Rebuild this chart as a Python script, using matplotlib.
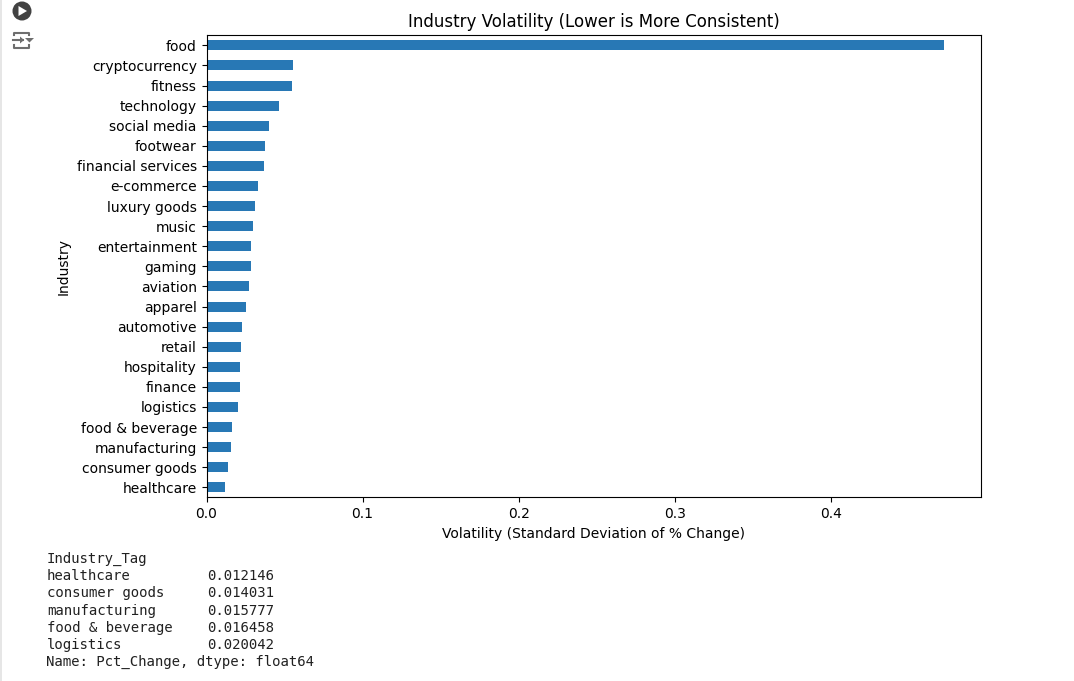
import matplotlib
matplotlib.use('Agg')
import matplotlib.pyplot as plt
from matplotlib.patches import Circle, Polygon, Rectangle
from matplotlib.lines import Line2D

industries = ['healthcare', 'consumer goods', 'manufacturing', 'food & beverage', 'logistics',
              'finance', 'hospitality', 'retail', 'automotive', 'apparel', 'aviation', 'gaming',
              'entertainment', 'music', 'luxury goods', 'e-commerce', 'financial services',
              'footwear', 'social media', 'technology', 'fitness', 'cryptocurrency', 'food']
volatility = [0.012146, 0.014031, 0.015777, 0.016458, 0.020042,
              0.0212, 0.0215, 0.0220, 0.0225, 0.0250, 0.0270, 0.0282,
              0.0285, 0.0295, 0.0308, 0.0327, 0.0370,
              0.0372, 0.0400, 0.0462, 0.0545, 0.0551, 0.4725]

output_names = ['Industry_Tag', 'healthcare', 'consumer goods', 'manufacturing',
                'food & beverage', 'logistics', 'Name: Pct_Change, dtype: float64']
output_values = ['', '0.012146', '0.014031', '0.015777', '0.016458', '0.020042', '']

W, H = 1074, 681
fig = plt.figure(figsize=(W / 100, H / 100), dpi=100)

# axes box in pixels from the screenshot
left, right, top, bottom = 206.5, 981.3, 35.3, 497.4
ax = fig.add_axes([left / W, 1 - bottom / H, (right - left) / W, (bottom - top) / H])
ax.barh(industries, volatility, height=0.5, color='#2878b5')
ax.set_xlim(0, 0.4963)
ax.set_ylim(-0.5, 22.5)
ax.set_title('Industry Volatility (Lower is More Consistent)')
ax.set_xlabel('Volatility (Standard Deviation of % Change)')
ax.set_ylabel('Industry')

# notebook printout under the plot
for i, (name, value) in enumerate(zip(output_names, output_values)):
    y = 1 - (559 + i * 17.2) / H
    x = 46.3 if i == 6 else 47
    fig.text(x / W, y, name, family='DejaVu Sans Mono', fontsize=10.1,
             color='#212121', va='center', ha='left')
    fig.text(207.5 / W, y, value, family='DejaVu Sans Mono', fontsize=10.1,
             color='#212121', va='center', ha='left')

# colab cell gutter
overlay = fig.add_axes([0, 0, 1, 1], facecolor='none')
overlay.set_xlim(0, W)
overlay.set_ylim(H, 0)
overlay.axis('off')
overlay.add_patch(Rectangle((0, 0), 2, H, color='#e6e6e6', lw=0))
overlay.add_patch(Circle((22, 11), 9.5, color='#424242', lw=0))
overlay.add_patch(Polygon([[18.5, 6], [18.5, 16], [27, 11]], color='white', lw=0))
icon = '#6e6e6e'
for xs, ys in [([13.5, 13.5, 28.5, 28.5], [35, 32.5, 32.5, 35]),
               ([13.5, 13.5, 28.5, 28.5], [45, 47.5, 47.5, 45]),
               ([12.5, 23], [40, 40])]:
    overlay.add_line(Line2D(xs, ys, color=icon, lw=1.5))
overlay.add_patch(Polygon([[20, 36.5], [24, 40], [20, 43.5]], color=icon, lw=0))
overlay.add_patch(Polygon([[25, 38], [34, 38], [29.5, 42.5]], color=icon, lw=0))

fig.savefig('out.png', dpi=100)
